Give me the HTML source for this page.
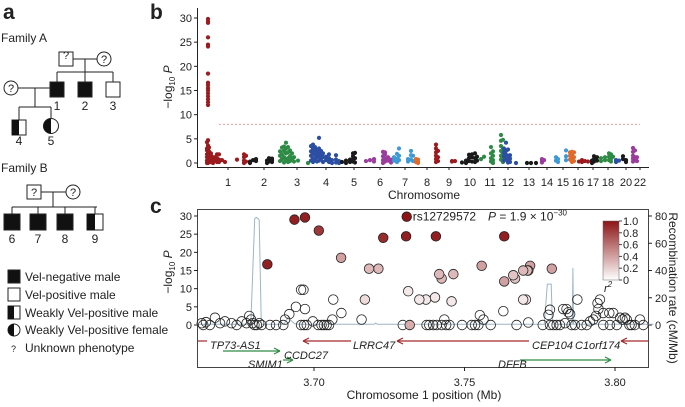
<!DOCTYPE html>
<html><head><meta charset="utf-8"><style>
body{margin:0;background:#fff;width:685px;height:402px;overflow:hidden;font-family:"Liberation Sans",sans-serif}
svg text{font-family:"Liberation Sans",sans-serif;fill:#222}
</style></head><body>
<svg id="fig" width="685" height="402" viewBox="0 0 685 402">
<g id="pa" stroke="#222" stroke-width="1" fill="none">
<text x="3" y="19" font-size="21" font-weight="bold" stroke="none">a</text>
<text x="1" y="42" font-size="12" stroke="none">Family A</text>
<line x1="73" y1="59" x2="97" y2="59"/><line x1="85" y1="59" x2="85" y2="72"/><line x1="57" y1="72" x2="113" y2="72"/>
<line x1="57" y1="72" x2="57" y2="82"/><line x1="85" y1="72" x2="85" y2="82"/><line x1="113" y1="72" x2="113" y2="82"/>
<rect x="59" y="52" width="14" height="14" fill="#fff"/>
<circle cx="104" cy="59" r="7" fill="#fff"/>
<rect x="50" y="82" width="14" height="15" fill="#111"/>
<rect x="78" y="82" width="14" height="15" fill="#111"/>
<rect x="106" y="82" width="14" height="15" fill="#fff"/>
<line x1="18" y1="88" x2="50" y2="88"/><line x1="35" y1="88" x2="35" y2="107"/><line x1="19" y1="107" x2="51" y2="107"/>
<line x1="19" y1="107" x2="19" y2="120"/><line x1="51" y1="107" x2="51" y2="118"/>
<circle cx="11" cy="88" r="7" fill="#fff"/>
<rect x="12" y="120" width="14" height="15" fill="#fff"/>
<rect x="12" y="120" width="7" height="15" fill="#111" stroke="none"/>
<circle cx="51" cy="126" r="7.5" fill="#fff"/>
<path d="M51 118.5 A7.5 7.5 0 0 0 51 133.5 Z" fill="#111" stroke="none"/>
<g stroke="none" font-size="12" text-anchor="middle" fill="#222">
<text x="66" y="59" font-size="11">?</text><text x="104" y="63" font-size="11">?</text><text x="11" y="92" font-size="11">?</text>
<text x="57" y="110">1</text><text x="85" y="110">2</text><text x="113" y="110">3</text><text x="19" y="145">4</text><text x="51" y="145">5</text>
</g>
<text x="1" y="172" font-size="12" stroke="none">Family B</text>
<line x1="41" y1="192" x2="66" y2="192"/><line x1="53" y1="192" x2="53" y2="207"/><line x1="12" y1="207" x2="97" y2="207"/>
<line x1="12" y1="207" x2="12" y2="214"/><line x1="38" y1="207" x2="38" y2="214"/><line x1="65" y1="207" x2="65" y2="214"/><line x1="95" y1="207" x2="95" y2="214"/>
<rect x="27" y="185" width="14" height="14" fill="#fff"/>
<circle cx="73" cy="192" r="7" fill="#fff"/>
<rect x="4" y="214" width="16" height="16" fill="#111"/>
<rect x="30" y="214" width="16" height="16" fill="#111"/>
<rect x="57" y="214" width="16" height="16" fill="#111"/>
<rect x="87" y="214" width="16" height="16" fill="#fff"/>
<rect x="87" y="214" width="8" height="16" fill="#111" stroke="none"/>
<g stroke="none" font-size="12" text-anchor="middle" fill="#222">
<text x="34" y="196" font-size="11">?</text><text x="73" y="196" font-size="11">?</text>
<text x="12" y="243">6</text><text x="38" y="243">7</text><text x="65" y="243">8</text><text x="95" y="243">9</text>
</g>
<g>
<rect x="8" y="270" width="12" height="13" fill="#111"/>
<rect x="8" y="288" width="12" height="13" fill="#fff"/>
<rect x="8" y="306" width="12" height="13" fill="#fff"/><rect x="8" y="306" width="6" height="13" fill="#111" stroke="none"/>
<circle cx="14" cy="330" r="6" fill="#fff"/><path d="M14 324 A6 6 0 0 0 14 336 Z" fill="#111" stroke="none"/>
<g stroke="none" font-size="12" fill="#222">
<text x="25" y="281">Vel-negative male</text>
<text x="25" y="299">Vel-positive male</text>
<text x="25" y="317">Weakly Vel-positive male</text>
<text x="25" y="334">Weakly Vel-positive female</text>
<text x="11" y="352" font-size="9">?</text><text x="25" y="352">Unknown phenotype</text>
</g></g>
</g>
<g id="pb"></g>
<g id="pc"></g>
</svg>
<script>
// ---------- Panel b data ----------
const chrTicks=["1","2","3","4","5","6","7","8","9","10","11","12","13","14","15","16","17","18","20","22"];
const chrTickPos=[30,66,99,128,156,182,207,229,251,272,292,310,331,349,365,380,395,410,428,442];
const yTicksB=[0,5,10,15,20,25,30];
const clusterChr=[1,1,1,1,1,1,1,1,1,1,1,2,2,2,2,2,2,3,3,3,3,3,3,3,3,3,3,4,4,4,4,4,4,4,4,4,4,4,4,5,5,5,5,5,6,6,6,6,6,6,6,7,7,7,7,7,7,8,8,9,9,9,9,9,10,10,10,10,10,10,11,11,11,11,11,11,12,12,12,12,12,13,13,13,14,14,15,15,15,16,16,16,17,17,17,17,18,18,18,19,19,19,19,19,20,20,21,21,22,22,22];
const clusterPos=[10,9.5,11,13,17,19,21,24,27,39,46,48,52,55,58,69,71,74,82,84,86,88,90,92,94,96,100,110,113,115,117,119,121,123,125,128,131,134,138,141,144,148,152,155,157,168,172,176,185,187,190,193,196,199,201,210,213,215,218,220,238,240,254,257,264,268,271,274,277,279,283,286,293,295,303,305,306,308,310,312,318,329,333,338,344,346,358,360,368,372,374,376,381,384,387,390,394,396,399,403,407,411,413,415,418,421,425,428,435,437,439,
].slice(0,0); // placeholder (replaced below)
const mPos=[],mVal=[],mChr=[];
const clusters=[
[1,10,[29.8,29.3,29,26,24.5,24.1,18.5,16.6,16.1,15.5,15,14.4,13.8,13.2,12.6,12,4.7,3.6,2.2,1.2,0.6,0]],
[1,9,[4.3,3,2.6,1.8,1.2,0.5,0]],[1,11,[3.2,2.4,1.5,0.9,0.3]],[1,13,[2,1.5,0.8,0.2]],[1,15,[1.2,0.4,0]],
[1,17,[1.2,0.5]],[1,19,[1.8,1,0.2]],[1,21,[1.8,0.7,0.2]],[1,24,[0.6]],[1,27,[0.2]],[1,39,[0.7]],
[1,46,[1.8,1.2,0.5,0]],[1,48,[1.5,0.3]],
[2,52,[0.3,0]],[2,55,[0.6]],[2,58,[0.8,0.4]],[2,69,[0.5,0]],[2,71,[1,0.3]],[2,74,[0.9,0.6,0.2]],
[3,82,[2.4,1.5,0.4]],[3,84,[3.2,1.8,0.8]],[3,86,[3.4,2.5,1.2,0.1]],[3,88,[4.2,3,2,0.7]],[3,90,[3.3,2.2,1,0.2]],[3,92,[2.6,1.4,0.4]],[3,94,[2,0.9]],[3,96,[1.2,0.3]],[3,100,[0.5]],[3,110,[0]],
[4,113,[3.5,2.4,1.5,0.5]],[4,115,[3.8,3,2,1,0.2]],[4,117,[3.3,2.6,1.7,0.6]],[4,119,[2.8,2,1.2,0.3]],[4,121,[5.2,3,2.2,1.4,0.5]],[4,123,[2.5,1.6,0.8]],[4,125,[2,1.2,0.2]],[4,128,[1.3,0.6]],[4,131,[1.8,1,0.2]],[4,134,[0.6,0]],[4,138,[1.6,0.7,0.1]],[4,141,[0.4,0]],
[5,144,[0.2]],[5,148,[0.5,0]],[5,152,[0.7,0.2]],[5,155,[2,1.4,0.8,0.3]],[5,157,[2.1,1,0.1]],
[6,168,[0.4]],[6,172,[0.6]],[6,176,[0.8,0.3]],[6,185,[2.3,1.4,0.6,0]],[6,187,[2.2,1.8,1,0.3]],[6,190,[1.2,0.5]],[6,193,[0.7,0.1]],
[7,196,[1.2,0.5]],[7,199,[1.9,0.9,0.2]],[7,201,[3,1.5,0.6]],[7,210,[0.8,0.3]],[7,213,[2.5,1.6,0.7]],[7,215,[1.5,0.4]],
[8,218,[0.8,0.2]],[8,220,[0.7,0.3,0]],
[9,238,[3.8,3,2.2,1.5,0.8,0.2]],[9,240,[2.5,1.2,0.4]],[9,254,[0.4,0.3]],[9,257,[0.4]],
[10,264,[0.1]],[10,268,[0.5,0]],[10,271,[1.7,1,0.4]],[10,274,[1.8,1.2,0.3]],[10,277,[2,1,0.2]],[10,279,[1.3,0.5]],
[11,283,[0.8]],[11,286,[1.3]],[11,293,[3.3,2,1,0.3]],[11,295,[2.4,1.5,0.6,0]],[11,303,[5.8,4.6,3.5,2.5,1.5,0.7]],[11,305,[4.8,3,2,1,0.2]],
[12,306,[3,2.2,1.4,0.5]],[12,308,[4.2,2.5,1.7,0.8]],[12,310,[2.8,1.5,0.6,0.1]],[12,312,[1.6,0.9,0.2]],[12,318,[0]],
[13,329,[0]],[13,333,[0]],[13,338,[0]],
[14,344,[0.8,0.4,0.1]],[14,346,[0.6]],
[15,358,[1.2,0.5]],[15,360,[0.8,0.2]],[15,368,[2.6,1.4,0.6]],
[16,372,[2.2,1.5,0.7]],[16,374,[2.3,1.6,0.9,0.2]],[16,376,[2.2,1.2,0.4]],
[17,381,[0.3]],[17,384,[0.6,0.2]],[17,387,[0.4]],[17,390,[0.3]],
[18,394,[0.5,0]],[18,396,[1.4,0.8,0.3]],[18,399,[1.2,0.5]],
[19,403,[1,0.4]],[19,407,[1.2,0.6]],[19,411,[2,1.3,0.6]],[19,413,[1.8,0.9,0.3]],[19,415,[1.3]],
[20,418,[0.6,0.2]],[20,421,[0.5]],[21,425,[1.4,0.8]],[21,428,[0.6,0.2]],
[22,435,[3.1,2.3,1.5,0.9,0.3]],[22,437,[2.6,1.2,0.5]],[22,439,[1.2,0.4]]
];
const threshold=8;
// ---------- Panel c data ----------
const snpPos=[3.6845,3.6935,3.697,3.7016,3.709,3.7183,3.7214,3.723,3.7306,3.7405,3.7632,3.7169,3.7313,3.7318,3.735,3.7372,3.7402,3.7416,3.7424,3.7463,3.7457,3.7557,3.7632,3.7662,3.7668,3.7695,3.7709,3.7712,3.7718,3.779,3.7695,3.7704,
3.6627,3.6632,3.6641,3.6654,3.6671,3.6688,3.6704,3.6726,3.6743,3.676,3.6776,3.6785,3.6791,3.6796,3.6802,3.681,3.6818,3.6826,3.6854,3.6874,3.6898,3.6904,3.6918,3.694,3.6957,3.6965,3.6957,3.6967,3.6976,3.697,3.6996,3.7014,3.7025,3.7033,3.7042,3.705,3.7061,3.7064,3.7091,3.7158,3.7295,3.7374,3.7383,3.7396,3.7408,3.7424,3.7433,3.7439,3.745,3.7492,3.7524,3.7535,3.7546,3.7551,3.7563,3.7587,3.7629,3.7673,3.7712,3.776,3.7779,3.7784,3.7784,3.7795,3.7806,3.7817,3.7828,3.7839,3.7845,3.7851,3.7834,3.7856,3.7867,3.7875,3.7889,3.7906,3.7917,3.7928,3.7937,3.7942,3.795,3.7945,3.7961,3.7981,3.7994,3.7961,3.7983,3.8006,3.8017,3.8025,3.8033,3.8039,3.8048,3.8055,3.8066,3.8083,3.8094];
const snpLogP=[16.7,29,29.6,26,18.5,15.5,15.5,24,24.4,24.4,24.4,7,9.3,0,7,7,7.6,14,12.8,14,6.5,16.3,12,13.7,12.8,15,15,15,16.3,15.5,7,7,
0.5,0,0.8,0,2,0.5,1,0.5,0,1,0.5,2.5,1.5,0.5,0,0,0.5,0,0,0,0,1.5,3,5,9.7,9.7,0,0,0,4.4,1,0,0,0,0,0,1.5,7,3.3,1.5,0,0,0,0,0,0,1.5,0,0,0,0,0,0,2.7,1.5,0,3.8,0,0.7,0,2.8,4.2,0,0,0,0,4.4,4.4,3.5,3,0.5,0,0,7,0,0,1,1.5,2.5,6,7,4.4,3.3,3.3,3.3,0,0,0,2,1.5,2,1.5,0,0,0,1.5,0];
const snpR2=[0.95,0.95,0.95,0.85,0.4,0.3,0.3,0.9,0.95,0.95,0.95,0.15,0.1,0.35,0.1,0.1,0.1,0.3,0.3,0.3,0.1,0.4,0.4,0.25,0.25,0.3,0.3,0.3,0.4,0.4,0.1,0.1];
const leadPos=3.7308, leadLogP=29.8;
const recPos=[3.661,3.679,3.6803,3.6808,3.6815,3.6818,3.6825,3.690,3.6915,3.692,3.6935,3.695,3.720,3.7205,3.721,3.760,3.7765,3.7775,3.778,3.7788,3.7792,3.785,3.7858,3.786,3.7862,3.787,3.8128];
const recRate=[0.5,0.5,78,79,78,77,0.5,0.5,6,4,1,0.5,0.5,1.5,0.5,0.5,0.5,30,30,30,0.5,0.5,0.5,42,0.5,0.5,0.5];
const xTicksC=[3.70,3.75,3.80];
const yTicksC=[0,5,10,15,20,25,30];
const recTicks=[0,20,40,60,80];
const r2Ticks=[0,0.2,0.4,0.6,0.8,1.0];

const NS="http://www.w3.org/2000/svg";
function mk(p,tag,at,txt){const e=document.createElementNS(NS,tag);for(const k in at)e.setAttribute(k,at[k]);if(txt!=null)e.textContent=txt;p.appendChild(e);return e;}
const palette={1:"#9b1b1f",2:"#1a1a1a",3:"#2e8b45",4:"#2c4ea3",5:"#1a1a1a",6:"#9a3d9e",7:"#3d9ad6",8:"#e06a2b",9:"#9b1b1f",10:"#1a1a1a",11:"#2e8b45",12:"#2c4ea3",13:"#1a1a1a",14:"#9a3d9e",15:"#3d9ad6",16:"#e06a2b",17:"#9b1b1f",18:"#1a1a1a",19:"#2e8b45",20:"#2c4ea3",21:"#1a1a1a",22:"#9a3d9e"};
for(const c of clusters){for(const v of c[2]){mChr.push(c[0]);mPos.push(c[1]);mVal.push(v);}}

// ---- Panel b ----
const pb=document.getElementById('pb');
const bx=u=>198+u, by=v=>163-v*145/30;
let t=mk(pb,'text',{x:150,y:19,'font-size':21,'font-weight':'bold'},'b');

t=mk(pb,'text',{transform:'translate(172,87) rotate(-90)','font-size':12,'text-anchor':'middle'});

t.innerHTML='−log<tspan font-size="8" dy="3">10</tspan><tspan dy="-3" font-style="italic"> P</tspan>';
let l=mk(pb,'line',{x1:197.5,y1:8,x2:197.5,y2:167,stroke:'#222'});

l=mk(pb,'line',{x1:197,y1:167.5,x2:649,y2:167.5,stroke:'#222'});

for(const v of yTicksB){mk(pb,'line',{x1:194,x2:198,y1:by(v),y2:by(v),stroke:'#222'});
 const e=mk(pb,'text',{x:192,y:by(v)+4,'font-size':11,'text-anchor':'end'},String(v));
 }
chrTicks.forEach((c,i)=>{mk(pb,'line',{x1:bx(chrTickPos[i]),x2:bx(chrTickPos[i]),y1:167,y2:170,stroke:'#222'});
 const e=mk(pb,'text',{x:bx(chrTickPos[i]),y:186,'font-size':11,'text-anchor':'middle'},c);
 });
t=mk(pb,'text',{x:424,y:199,'font-size':12,'text-anchor':'middle'},'Chromosome');

l=mk(pb,'line',{x1:219,x2:640,y1:by(threshold),y2:by(threshold),stroke:'#e88a86','stroke-width':0.8,'stroke-dasharray':'2,2'});

for(let i=0;i<mVal.length;i++){const d=mk(pb,'circle',{cx:bx(mPos[i]),cy:by(mVal[i]),r:2.1,fill:palette[mChr[i]]});
 }

// ---- Panel c ----
const pc=document.getElementById('pc');
const cx=v=>314+(v-3.70)*3010, cy=v=>325-v*109/30, ry=v=>325-v*109/80;
t=mk(pc,'text',{x:150,y:213,'font-size':21,'font-weight':'bold'},'c');

t=mk(pc,'text',{transform:'translate(172,272) rotate(-90)','font-size':12,'text-anchor':'middle'});

t.innerHTML='−log<tspan font-size="8" dy="3">10</tspan><tspan dy="-3" font-style="italic"> P</tspan>';
t=mk(pc,'text',{transform:'translate(669,288) rotate(90)','font-size':12,'text-anchor':'middle'},'Recombination rate (cM/Mb)');

const box=mk(pc,'rect',{x:197.5,y:209.5,width:451,height:158,fill:'none',stroke:'#444'});

for(const v of yTicksC){mk(pc,'line',{x1:194,x2:198,y1:cy(v),y2:cy(v),stroke:'#222'});
 const e=mk(pc,'text',{x:192,y:cy(v)+4,'font-size':11,'text-anchor':'end'},String(v));
 }
for(const v of recTicks){mk(pc,'line',{x1:648,x2:652,y1:ry(v),y2:ry(v),stroke:'#222'});
 const e=mk(pc,'text',{x:655,y:ry(v)+4,'font-size':11},String(v));
 }
for(const v of xTicksC){mk(pc,'line',{x1:cx(v),x2:cx(v),y1:367,y2:371,stroke:'#222'});
 const e=mk(pc,'text',{x:cx(v),y:386,'font-size':11,'text-anchor':'middle'},v.toFixed(2));
 }
t=mk(pc,'text',{x:424,y:399,'font-size':12,'text-anchor':'middle'},'Chromosome 1 position (Mb)');

// recombination line
let dstr='';recPos.forEach((p,i)=>{dstr+=(i?'L':'M')+cx(p).toFixed(1)+' '+ry(recRate[i]).toFixed(1);});
l=mk(pc,'path',{d:dstr,fill:'none',stroke:'#9db5c9','stroke-width':1});

function r2col(r){const a=[255,255,255],b=[140,20,22];return 'rgb('+a.map((x,i)=>Math.round(x+(b[i]-x)*r)).join(',')+')';}
// open circles first
for(let i=snpLogP.length-1;i>=0;i--){const r=i<snpR2.length?snpR2[i]:0;
 const c=mk(pc,'circle',{cx:cx(snpPos[i]),cy:cy(snpLogP[i]),r:4.8,fill:r>0?r2col(r):'none',stroke:'#222','stroke-width':0.8});
 }
const lead=mk(pc,'circle',{cx:cx(leadPos),cy:cy(leadLogP),r:4.8,fill:r2col(1),stroke:'#222','stroke-width':0.8});

t=mk(pc,'text',{x:cx(leadPos)+6,y:cy(leadLogP)+4,'font-size':12},'rs12729572');

t=mk(pc,'text',{x:488,y:cy(leadLogP)+4,'font-size':12});

t.innerHTML='<tspan font-style="italic">P</tspan> = 1.9 × 10<tspan font-size="8" dy="-5">−30</tspan>';
// colour bar
const defs=mk(pc,'defs',{});const g=mk(defs,'linearGradient',{id:'r2g',x1:0,y1:1,x2:0,y2:0});
mk(g,'stop',{offset:0,'stop-color':r2col(0)});mk(g,'stop',{offset:1,'stop-color':r2col(1)});
const cb=mk(pc,'rect',{x:603,y:221,width:16,height:59,fill:'url(#r2g)',stroke:'#666','stroke-width':0.5});

for(const v of r2Ticks){const yy=280-v*59;mk(pc,'line',{x1:619,x2:622,y1:yy,y2:yy,stroke:'#444'});
 const e=mk(pc,'text',{x:623,y:yy+4,'font-size':11},v===0?'0':v.toFixed(1));
 }
t=mk(pc,'text',{x:604,y:292,'font-size':11,'font-style':'italic'});t.innerHTML='r<tspan font-size="8" dy="-5">2</tspan>';

// genes
const RED='#a3282b',GRN='#2f8a45';
function arrowL(x1,x2,y,c){mk(pc,'line',{x1:x1,x2:x2,y1:y,y2:y,stroke:c,'stroke-width':1.2});mk(pc,'path',{d:`M${x1} ${y} l6 -3 M${x1} ${y} l6 3`,stroke:c,'stroke-width':1.2,fill:'none'});}
function arrowR(x1,x2,y,c){mk(pc,'line',{x1:x1,x2:x2,y1:y,y2:y,stroke:c,'stroke-width':1.2});mk(pc,'path',{d:`M${x2} ${y} l-6 -3 M${x2} ${y} l-6 3`,stroke:c,'stroke-width':1.2,fill:'none'});}
mk(pc,'line',{x1:198,x2:207,y1:341,y2:341,stroke:RED,'stroke-width':1.2});
arrowL(303,351,341,RED);arrowL(397,529,341,RED);arrowL(621,648,341,RED);
arrowR(223,280,351,GRN);arrowR(283,293,360,GRN);arrowR(520,611,360,GRN);
const genes=[['TP73-AS1',210,345],['LRRC47',353,345],['CEP104',532,345],['C1orf174',575,345],['CCDC27',284,355],['SMIM1',248,364],['DFFB',498,364]];
for(const gn of genes){const e=mk(pc,'text',{x:gn[1],y:gn[2]+4,'font-size':11,'font-style':'italic'},gn[0]);
 }
</script>
</body></html>
